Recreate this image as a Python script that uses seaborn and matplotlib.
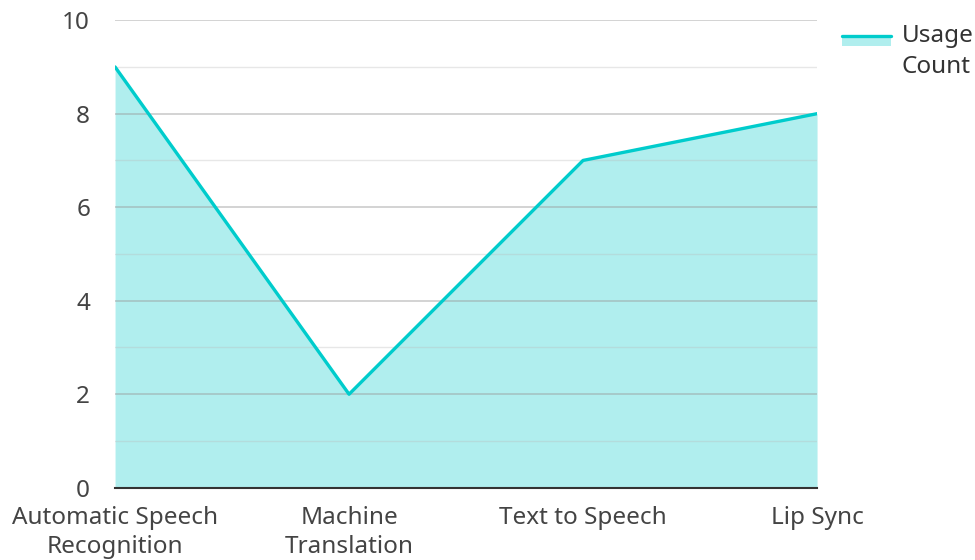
import numpy as np
import pandas as pd
import matplotlib
matplotlib.use("Agg")
import matplotlib.pyplot as plt
import seaborn as sns
from matplotlib.patches import Rectangle
from matplotlib.lines import Line2D
from matplotlib.legend_handler import HandlerBase

# data
categories = ["Automatic Speech\nRecognition", "Machine\nTranslation", "Text to Speech", "Lip Sync"]
usage_count = [9, 2, 7, 8]

LINE = "#00CCCC"
FILL = "#B0EEEE"

sns.set_style("white")
plt.rcParams['font.family'] = ['Noto Sans', 'DejaVu Sans']

df = pd.DataFrame({"tool": categories, "count": usage_count})

fig = plt.figure(figsize=(9.75, 5.6), dpi=100)
ax = fig.add_axes([0.118, 0.129, 0.720, 0.835])

xpos = np.arange(len(categories))
ax.fill_between(xpos, 0, df["count"], color=FILL, lw=0, zorder=1)
sns.lineplot(data=df, x="tool", y="count", color=LINE, lw=2.4, ax=ax,
             sort=False, zorder=3)

# grid: even major darker, odd minor lighter
ax.set_ylim(0, 10)
ax.set_xlim(0, len(categories) - 1)
ax.set_yticks(np.arange(0, 11, 2))
ax.set_yticks(np.arange(1, 10, 2), minor=True)
ax.grid(axis='y', which='major', color='#999999', alpha=0.5, lw=1.2, zorder=2)
ax.grid(axis='y', which='minor', color='#bbbbbb', alpha=0.35, lw=1.0, zorder=2)
ax.set_axisbelow(False)

for s in ['top', 'right', 'left']:
    ax.spines[s].set_visible(False)
ax.spines['bottom'].set_color('#333333')
ax.spines['bottom'].set_linewidth(1.5)
ax.spines['bottom'].set_zorder(4)

ax.tick_params(axis='both', which='both', length=0, labelsize=17.5, labelcolor='#444444')
ax.tick_params(axis='y', pad=18)
ax.tick_params(axis='x', pad=13)
for t in ax.get_xticklabels():
    t.set_linespacing(1.3)
ax.set_xlabel("")
ax.set_ylabel("")


class AreaHandler(HandlerBase):
    # line on top of a filled strip, aligned with the first text line
    def create_artists(self, legend, orig, xd, yd, w, h, fontsize, trans):
        top = -yd + h * 1.42
        r = Rectangle((-xd, top - h * 0.6), w, h * 0.6, facecolor=FILL, lw=0,
                      transform=trans)
        l = Line2D([-xd, -xd + w], [top, top], color=LINE, lw=2.4, transform=trans)
        return [r, l]


handle = Rectangle((0, 0), 1, 1)
leg = fig.legend([handle], ["Usage\nCount"], handler_map={Rectangle: AreaHandler()},
                 loc='upper left', bbox_to_anchor=(0.864, 0.958), frameon=False,
                 fontsize=17.5, handlelength=2.0, handletextpad=0.45,
                 labelcolor='#333333', borderpad=0, borderaxespad=0)
for t in leg.get_texts():
    t.set_linespacing(1.4)

fig.savefig("out.png", dpi=100)
